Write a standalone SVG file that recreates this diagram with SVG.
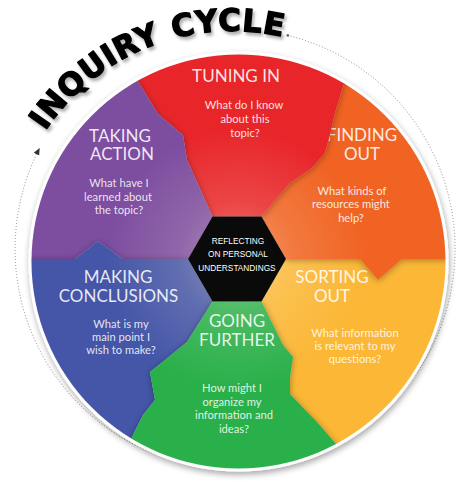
<svg xmlns="http://www.w3.org/2000/svg" xmlns:xlink="http://www.w3.org/1999/xlink" width="474" height="497" viewBox="0 0 474 497">
<style>
  .head { font-family: Lato, "Open Sans", "Liberation Sans", sans-serif; font-size: 17px; text-anchor: middle; fill: #ffffff; fill-opacity: 0.88; }
  .body { font-family: Lato, "Open Sans", "Liberation Sans", sans-serif; font-size: 11.2px; text-anchor: middle; fill: #ffffff; fill-opacity: 0.86; }
  .hex { font-family: "Liberation Sans", Arial, sans-serif; font-size: 8.3px; text-anchor: middle; fill: #ffffff; }
  .title { font-family: "DejaVu Sans", "Liberation Sans", sans-serif; font-weight: bold; font-size: 31px; letter-spacing: 0.5px; fill: #000; stroke: #000; stroke-width: 1.3; stroke-linejoin: round; }
  .sec { clip-path: url(#wheelClip); filter: url(#secShadow); }
  .glow { clip-path: url(#wheelClip); fill: url(#glowGrad); }
  .dots { fill: none; stroke: #8a8a8a; stroke-width: 1; stroke-dasharray: 1 2; }
</style>
<defs>
  <clipPath id="wheelClip"><circle cx="238.5" cy="261.5" r="207"/></clipPath>
  <filter id="secShadow" x="-20%" y="-20%" width="140%" height="140%">
    <feDropShadow dx="0" dy="1" stdDeviation="3" flood-color="#000" flood-opacity="0.35"/>
  </filter>
  <filter id="rimShadow" x="-10%" y="-10%" width="120%" height="120%">
    <feDropShadow dx="1" dy="3" stdDeviation="3" flood-color="#000" flood-opacity="0.35"/>
  </filter>
  <filter id="titleShadow" x="-10%" y="-20%" width="120%" height="140%">
    <feDropShadow dx="2" dy="3" stdDeviation="1.5" flood-color="#000" flood-opacity="0.3"/>
  </filter>
  <radialGradient id="glowGrad" gradientUnits="userSpaceOnUse" cx="237" cy="259" r="130">
    <stop offset="0" stop-color="#fff3e0" stop-opacity="0.4"/>
    <stop offset="0.45" stop-color="#fff3e0" stop-opacity="0.15"/>
    <stop offset="1" stop-color="#fff3e0" stop-opacity="0"/>
  </radialGradient>
  <marker id="arrow" markerUnits="userSpaceOnUse" markerWidth="8" markerHeight="8" refX="6" refY="3" orient="auto">
    <path d="M0,0 L7,3 L0,6 Z" fill="#333"/>
  </marker>
  <marker id="dot" markerUnits="userSpaceOnUse" markerWidth="4" markerHeight="4" refX="2" refY="2">
    <circle cx="2" cy="2" r="1.3" fill="#666"/>
  </marker>
  <path id="p-red" d="M212.5,216.6 L187,160 L183,135 L158,114 L136,78 L120,45 L120,0 L360,0 L355,50 L343,87 L335,113 L330,135 L325,153 L312,168 L290,183 L277,198 L261.5,216.6 Z"/>
  <path id="p-orange" d="M261.5,216.6 L277,198 L290,183 L312,168 L325,153 L330,135 L335,113 L343,87 L355,50 L360,0 L474,0 L474,259 L402,259 L378,280 L360,259 L286,259 Z"/>
  <path id="p-yellow" d="M286,259 L360,259 L378,280 L402,259 L474,259 L474,497 L370,497 L370,490 L343,452 L317,422 L290,394 L290,378 L293,357 L283,345 L261.5,301.4 Z"/>
  <path id="p-green" d="M261.5,301.4 L283,345 L293,357 L290,378 L290,394 L317,422 L343,452 L370,490 L370,497 L110,497 L115,480 L133,435 L143,415 L155,400 L150,372 L165,360 L187,342 L212.5,301.4 Z"/>
  <path id="p-blue" d="M212.5,301.4 L187,342 L165,360 L150,372 L155,400 L143,415 L133,435 L115,480 L110,497 L0,497 L0,259 L75,259 L98,241 L123,259 L188,259 Z"/>
  <path id="p-purple" d="M188,259 L123,259 L98,241 L75,259 L0,259 L0,0 L120,0 L120,45 L136,78 L158,114 L183,135 L187,160 L212.5,216.6 Z"/>
  <path id="titlePath" d="M45.4,131 A224,224 0 0 1 344,61"/>
</defs>

<rect width="474" height="497" fill="#ffffff"/>

<g id="connectors">
  <path class="dots" d="M287.8,35.4 A220,220 0 1 1 39.2,148.8" marker-start="url(#dot)" marker-end="url(#arrow)"/>
</g>

<g id="title" filter="url(#titleShadow)">
  <text class="title"><textPath href="#titlePath" xlink:href="#titlePath">INQUIRY</textPath></text>
  <text class="title"><textPath href="#titlePath" xlink:href="#titlePath" startOffset="161.6">CYCLE</textPath></text>
</g>

<g id="wheel-rim">
  <circle cx="238.5" cy="261.5" r="210" fill="#ffffff" filter="url(#rimShadow)"/>
</g>

<g id="sorting-out">
  <use href="#p-yellow" xlink:href="#p-yellow" class="sec" fill="#fbb734"/>
  <use href="#p-yellow" xlink:href="#p-yellow" class="glow"/>
  <text class="head" x="332" y="283">SORTING</text>
  <text class="head" x="332" y="302">OUT</text>
  <text class="body" x="355" y="337" fill-opacity="0.72">What information</text>
  <text class="body" x="355" y="350" fill-opacity="0.72">is relevant to my</text>
  <text class="body" x="355" y="363" fill-opacity="0.72">questions?</text>
</g>

<g id="finding-out">
  <use href="#p-orange" xlink:href="#p-orange" class="sec" fill="#f06423"/>
  <use href="#p-orange" xlink:href="#p-orange" class="glow"/>
  <text class="head" x="362" y="141">FINDING</text>
  <text class="head" x="362" y="160">OUT</text>
  <text class="body" x="352" y="195">What kinds of</text>
  <text class="body" x="351" y="208">resources might</text>
  <text class="body" x="351" y="222">help?</text>
</g>

<g id="tuning-in">
  <use href="#p-red" xlink:href="#p-red" class="sec" fill="#e8282a"/>
  <use href="#p-red" xlink:href="#p-red" class="glow"/>
  <text class="head" x="236" y="82">TUNING IN</text>
  <text class="body" x="244" y="109">What do I know</text>
  <text class="body" x="245" y="123">about this</text>
  <text class="body" x="245" y="137">topic?</text>
</g>

<g id="taking-action">
  <use href="#p-purple" xlink:href="#p-purple" class="sec" fill="#7d4ea0"/>
  <use href="#p-purple" xlink:href="#p-purple" class="glow"/>
  <text class="head" x="120" y="142">TAKING</text>
  <text class="head" x="122" y="160">ACTION</text>
  <text class="body" x="119" y="187">What have I</text>
  <text class="body" x="118" y="200.5">learned about</text>
  <text class="body" x="119" y="214">the topic?</text>
</g>

<g id="making-conclusions">
  <use href="#p-blue" xlink:href="#p-blue" class="sec" fill="#4457a8"/>
  <use href="#p-blue" xlink:href="#p-blue" class="glow"/>
  <text class="head" x="118" y="283">MAKING</text>
  <text class="head" x="118.5" y="302">CONCLUSIONS</text>
  <text class="body" x="121" y="328">What is my</text>
  <text class="body" x="121" y="341">main point I</text>
  <text class="body" x="121" y="354">wish to make?</text>
</g>

<g id="going-further">
  <use href="#p-green" xlink:href="#p-green" class="sec" fill="#2cb04b"/>
  <use href="#p-green" xlink:href="#p-green" class="glow"/>
  <text class="head" x="237" y="327">GOING</text>
  <text class="head" x="237" y="346">FURTHER</text>
  <text class="body" x="232" y="392">How might I</text>
  <text class="body" x="232" y="406">organize my</text>
  <text class="body" x="234" y="419">information and</text>
  <text class="body" x="234" y="433">ideas?</text>
</g>

<g id="reflecting">
  <polygon points="286,259 261.5,301.4 212.5,301.4 188,259 212.5,216.6 261.5,216.6" fill="#0a0a0a"/>
  <text class="hex" x="238" y="244">REFLECTING</text>
  <text class="hex" x="238" y="256.7">ON PERSONAL</text>
  <text class="hex" x="237" y="270.5">UNDERSTANDINGS</text>
</g>
</svg>
